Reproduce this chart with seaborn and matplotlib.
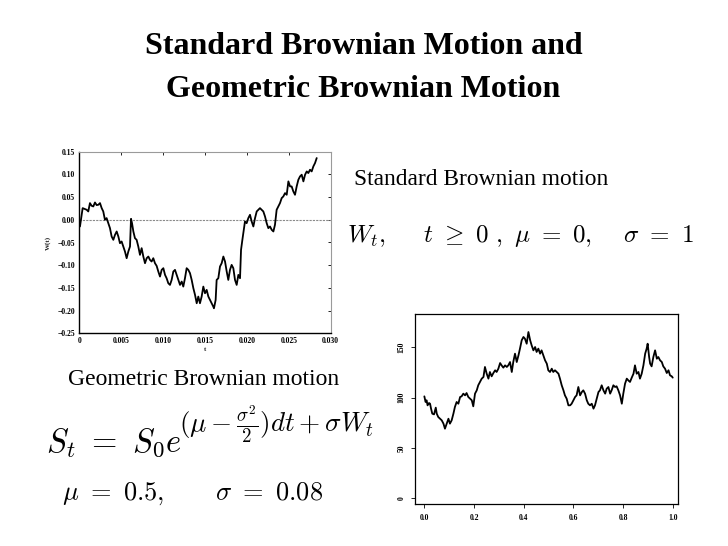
import matplotlib
matplotlib.use("Agg")
import matplotlib.pyplot as plt
import seaborn as sns
import pandas as pd

# Standard Brownian motion path
t_std = [0.00008, 0.00040, 0.00068, 0.00088, 0.00107, 0.00127, 0.00147, 0.00167, 0.00187, 0.00207,
         0.00227, 0.00247, 0.00267, 0.00286, 0.00306, 0.00326, 0.00346, 0.00366, 0.00386, 0.00406,
         0.00426, 0.00446, 0.00466, 0.00485, 0.00505, 0.00525, 0.00545, 0.00565, 0.00585, 0.00605,
         0.00617, 0.00629, 0.00645, 0.00664, 0.00684, 0.00704, 0.00724, 0.00744, 0.00764, 0.00784,
         0.00804, 0.00824, 0.00843, 0.00863, 0.00883, 0.00903, 0.00923, 0.00943, 0.00963, 0.00983,
         0.01003, 0.01023, 0.01042, 0.01062, 0.01082, 0.01102, 0.01122, 0.01142, 0.01162, 0.01182,
         0.01202, 0.01222, 0.01241, 0.01261, 0.01281, 0.01301, 0.01321, 0.01341, 0.01361, 0.01381,
         0.01401, 0.01420, 0.01440, 0.01460, 0.01480, 0.01500, 0.01520, 0.01540, 0.01560, 0.01580,
         0.01599, 0.01607, 0.01627, 0.01639, 0.01659, 0.01679, 0.01699, 0.01719, 0.01739, 0.01759,
         0.01778, 0.01798, 0.01818, 0.01838, 0.01858, 0.01878, 0.01898, 0.01918, 0.01930, 0.01946,
         0.01966, 0.01977, 0.01997, 0.02017, 0.02037, 0.02057, 0.02077, 0.02097, 0.02117, 0.02137,
         0.02156, 0.02176, 0.02196, 0.02216, 0.02236, 0.02256, 0.02276, 0.02296, 0.02316, 0.02335,
         0.02355, 0.02375, 0.02395, 0.02415, 0.02435, 0.02455, 0.02475, 0.02495, 0.02515, 0.02534,
         0.02554, 0.02574, 0.02594, 0.02614, 0.02634, 0.02654, 0.02674, 0.02694, 0.02714, 0.02733,
         0.02753, 0.02773, 0.02793, 0.02813, 0.02833]
w_std = [-0.0147, 0.0257, 0.0235, 0.0221, 0.0184, 0.0368, 0.0309, 0.0294, 0.0382, 0.0324,
         0.0331, 0.0368, 0.0257, 0.0184, 0.0000, 0.0037, -0.0074, -0.0184, -0.0368, -0.0441,
         -0.0331, -0.0257, -0.0368, -0.0515, -0.0478, -0.0588, -0.0699, -0.0846, -0.0699, -0.0588,
         0.0022, -0.0074, -0.0257, -0.0404, -0.0441, -0.0588, -0.0772, -0.0625, -0.0809, -0.0956,
         -0.0846, -0.0809, -0.0882, -0.0919, -0.0846, -0.0956, -0.1015, -0.1140, -0.1250, -0.1103,
         -0.1066, -0.1213, -0.1287, -0.1397, -0.1434, -0.1324, -0.1140, -0.1103, -0.1213, -0.1324,
         -0.1434, -0.1360, -0.1471, -0.1287, -0.1066, -0.1103, -0.1176, -0.1324, -0.1507, -0.1654,
         -0.1838, -0.1691, -0.1838, -0.1691, -0.1471, -0.1618, -0.1544, -0.1691, -0.1765, -0.1838,
         -0.1912, -0.1949, -0.1765, -0.1324, -0.1287, -0.1029, -0.0956, -0.0809, -0.0919, -0.1140,
         -0.1324, -0.1103, -0.0993, -0.1066, -0.1324, -0.1434, -0.1213, -0.1287, -0.0662, -0.0441,
         -0.0184, -0.0037, -0.0074, 0.0037, 0.0110, -0.0037, -0.0147, 0.0037, 0.0184, 0.0221,
         0.0257, 0.0221, 0.0184, 0.0074, -0.0074, -0.0184, -0.0147, -0.0221, -0.0257, -0.0110,
         0.0221, 0.0294, 0.0368, 0.0478, 0.0515, 0.0588, 0.0551, 0.0846, 0.0735, 0.0735,
         0.0625, 0.0551, 0.0735, 0.0882, 0.0956, 0.0993, 0.0846, 0.0993, 0.1066, 0.1029,
         0.1103, 0.1066, 0.1176, 0.1250, 0.1360]

# Geometric Brownian motion path
t_geo = [0.000, 0.005, 0.009, 0.013, 0.019, 0.023, 0.027, 0.032, 0.039, 0.046,
         0.050, 0.056, 0.063, 0.070, 0.077, 0.083, 0.090, 0.097, 0.103, 0.110,
         0.117, 0.123, 0.130, 0.137, 0.144, 0.150, 0.157, 0.164, 0.170, 0.177,
         0.184, 0.191, 0.197, 0.204, 0.211, 0.217, 0.224, 0.231, 0.238, 0.244,
         0.251, 0.258, 0.264, 0.271, 0.278, 0.285, 0.291, 0.298, 0.305, 0.311,
         0.318, 0.325, 0.332, 0.338, 0.345, 0.352, 0.358, 0.365, 0.372, 0.379,
         0.385, 0.392, 0.399, 0.405, 0.412, 0.419, 0.426, 0.432, 0.439, 0.446,
         0.452, 0.459, 0.466, 0.472, 0.479, 0.486, 0.493, 0.499, 0.506, 0.513,
         0.519, 0.526, 0.533, 0.540, 0.546, 0.553, 0.560, 0.566, 0.573, 0.580,
         0.587, 0.593, 0.600, 0.607, 0.613, 0.620, 0.627, 0.634, 0.640, 0.647,
         0.654, 0.660, 0.667, 0.674, 0.681, 0.687, 0.694, 0.701, 0.707, 0.714,
         0.721, 0.728, 0.734, 0.741, 0.748, 0.754, 0.761, 0.768, 0.774, 0.781,
         0.788, 0.795, 0.801, 0.808, 0.815, 0.821, 0.828, 0.835, 0.842, 0.848,
         0.855, 0.862, 0.868, 0.875, 0.882, 0.889, 0.895, 0.899, 0.905, 0.909,
         0.915, 0.922, 0.929, 0.936, 0.942, 0.949, 0.956, 0.962, 0.969, 0.976,
         0.983, 0.989, 0.996, 1.000]
s_geo = [101.3, 95.7, 97.4, 92.4, 94.7, 94.0, 89.1, 84.1, 83.4, 90.1,
         84.1, 80.8, 79.1, 77.5, 74.2, 69.2, 74.2, 79.1, 74.2, 77.5,
         84.1, 90.7, 95.7, 94.0, 100.7, 101.3, 104.0, 102.3, 104.6, 100.7,
         99.0, 97.4, 91.4, 104.0, 107.3, 112.3, 115.6, 118.9, 120.5, 130.5,
         123.8, 118.9, 125.5, 121.2, 124.5, 127.2, 125.5, 128.8, 134.4, 132.1,
         129.8, 132.1, 130.5, 132.1, 135.4, 125.5, 135.4, 143.7, 135.4, 142.1,
         148.7, 157.0, 160.3, 158.6, 153.6, 165.2, 157.0, 152.0, 147.0, 150.3,
         145.4, 148.7, 143.7, 147.0, 142.1, 137.1, 133.8, 127.2, 125.5, 128.8,
         125.5, 127.2, 125.5, 123.8, 118.9, 112.3, 107.3, 102.3, 99.0, 92.4,
         92.4, 94.0, 97.4, 100.7, 102.3, 110.6, 102.3, 105.6, 107.3, 104.0,
         97.4, 94.0, 92.4, 94.0, 89.1, 92.4, 99.0, 105.6, 107.3, 112.3,
         107.3, 104.0, 108.9, 110.6, 104.0, 107.3, 112.3, 110.6, 111.3, 107.3,
         102.3, 94.0, 104.0, 113.9, 118.9, 117.2, 115.6, 119.9, 123.8, 132.1,
         123.8, 125.5, 118.9, 123.8, 132.1, 143.7, 148.7, 153.6, 140.4, 133.8,
         131.1, 140.4, 147.0, 138.7, 140.4, 137.1, 135.4, 131.1, 128.8, 124.5,
         127.2, 122.2, 121.2, 119.9]

std_xticks = [0, 0.005, 0.010, 0.015, 0.020, 0.025, 0.030]
std_xlabels = ["0", "0.005", "0.010", "0.015", "0.020", "0.025", "0.030"]
std_yticks = [-0.25, -0.20, -0.15, -0.10, -0.05, 0.00, 0.05, 0.10, 0.15]
std_ylabels = ["\u22120.25", "\u22120.20", "\u22120.15", "\u22120.10", "\u22120.05",
               "0.00", "0.05", "0.10", "0.15"]
geo_xticks = [0.0, 0.2, 0.4, 0.6, 0.8, 1.0]
geo_xlabels = ["0.0", "0.2", "0.4", "0.6", "0.8", "1.0"]
geo_yticks = [0, 50, 100, 150]
geo_ylabels = ["0", "50", "100", "150"]

sns.set_theme(style="white")
plt.rcParams['font.family'] = ['Liberation Serif', 'DejaVu Serif']
plt.rcParams['mathtext.fontset'] = 'cm'

W, H = 728, 546
fig = plt.figure(figsize=(7.28, 5.46), dpi=100)
fig.patch.set_facecolor("white")


def fx(px):
    return px / W


def fy(py):
    return 1 - py / H


tick_font = dict(family='Liberation Serif', weight='bold', size=5.5)

# ---- standard Brownian motion plot ----
ax1 = fig.add_axes([fx(79.3), fy(333.3), fx(330.7) - fx(79.3), fy(151.7) - fy(333.3)])
df_std = pd.DataFrame({"t": t_std, "W": w_std})
ax1.axhline(0, color="#8a8a8a", lw=0.8, ls=(0, (2, 1)), zorder=1)
sns.lineplot(data=df_std, x="t", y="W", ax=ax1, color="black", lw=1.3, sort=False, estimator=None)
ax1.set_xlim(0, 0.030)
ax1.set_ylim(-0.25, 0.15)
ax1.set_xticks(std_xticks)
ax1.set_xticklabels(std_xlabels, fontdict=tick_font)
ax1.set_yticks(std_yticks)
ax1.set_yticklabels(std_ylabels, fontdict=tick_font)
ax1.tick_params(direction="in", length=2.5, width=0.6, top=True, right=True, pad=3, colors="black")
ax1.set_xlabel("t", fontsize=5, fontweight="bold", labelpad=1)
ax1.set_ylabel("W(t)", fontsize=5, fontweight="bold", labelpad=5)
for side in ["left", "bottom"]:
    ax1.spines[side].set_color("black")
    ax1.spines[side].set_linewidth(1.0)
for side in ["top", "right"]:
    ax1.spines[side].set_color("#9a9a9a")
    ax1.spines[side].set_linewidth(0.8)

# ---- geometric Brownian motion plot ----
ax2 = fig.add_axes([fx(415), fy(504), fx(677.7) - fx(415), fy(314.3) - fy(504)])
df_geo = pd.DataFrame({"t": t_geo, "S": s_geo})
sns.lineplot(data=df_geo, x="t", y="S", ax=ax2, color="black", lw=1.3, sort=False, estimator=None)
ax2.set_xlim(-0.0376, 1.020)
ax2.set_ylim(-5.6, 182.8)
ax2.set_xticks(geo_xticks)
ax2.set_xticklabels(geo_xlabels, fontdict=tick_font)
ax2.set_yticks(geo_yticks)
ax2.set_yticklabels(geo_ylabels, fontdict=tick_font, rotation=90, va="center")
ax2.tick_params(direction="out", length=3, width=0.6, pad=4, colors="black", left=True, bottom=True)
ax2.set_xlabel("")
ax2.set_ylabel("")
for side in ax2.spines:
    ax2.spines[side].set_color("black")
    ax2.spines[side].set_linewidth(0.9)

# ---- slide texts ----
fig.text(fx(363.5), fy(54), "Standard Brownian Motion and", ha="center", va="baseline",
         fontsize=23, fontweight="bold", color="black")
fig.text(fx(363.5), fy(97), "Geometric Brownian Motion", ha="center", va="baseline",
         fontsize=23, fontweight="bold", color="black")
fig.text(fx(354), fy(185), "Standard Brownian motion", ha="left", va="baseline",
         fontsize=16.8, color="black")
fig.text(fx(68), fy(385), "Geometric Brownian motion", ha="left", va="baseline",
         fontsize=17, color="black")
fig.text(fx(347), fy(242), r"$W_t,\quad\;\; t\ \geq\ 0\ ,\ \mu\ =\ 0,\quad\; \sigma\ =\ 1$",
         ha="left", va="baseline", fontsize=18, color="black")
fig.text(fx(46), fy(451), r"$S_t\ =\ S_0e$", ha="left", va="baseline", fontsize=23.5, color="black")
fig.text(fx(179), fy(432), r"$(\mu-\frac{\sigma^2}{2})dt+\sigma W_t$", ha="left",
         va="baseline", fontsize=19.5, color="black")
fig.text(fx(62), fy(500), r"$\mu\ =\ 0.5,\qquad \sigma\ =\ 0.08$", ha="left", va="baseline",
         fontsize=19, color="black")

fig.savefig("out.png", dpi=100, facecolor="white")
